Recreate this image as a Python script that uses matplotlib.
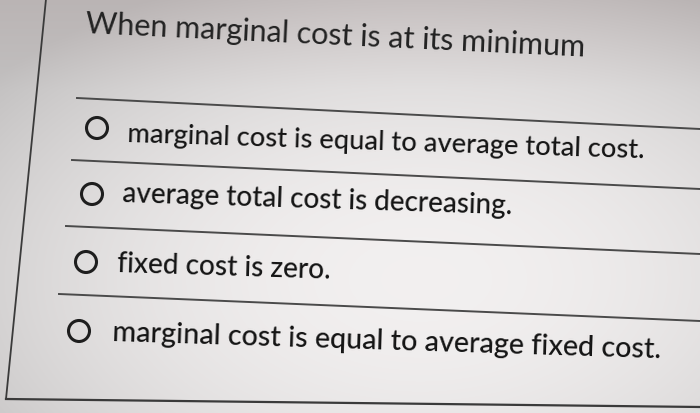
import matplotlib.pyplot as plt
import numpy as np

question = "When marginal cost is at its minimum"
options = [
    "marginal cost is equal to average total cost.",
    "average total cost is decreasing.",
    "fixed cost is zero.",
    "marginal cost is equal to average fixed cost.",
]

W, H = 700, 414
fig = plt.figure(figsize=(7, 4.14), dpi=100)
ax = fig.add_axes([0, 0, 1, 1])
ax.set_xlim(0, W)
ax.set_ylim(H, 0)
ax.axis('off')

# photo-ish background: brighter in the middle, greyer towards the edges
yy, xx = np.mgrid[0:H, 0:W]
d = np.sqrt(((xx - 420) / 560.0) ** 2 + ((yy - 280) / 330.0) ** 2)
shade = np.clip(0.95 - 0.20 * d ** 2, 0.76, 0.95)
top = np.clip(yy / 90.0, 0, 1)
r = shade * (0.96 + 0.04 * top)
g = shade * (0.93 + 0.06 * top)
b = shade * (0.93 + 0.06 * top)
ax.imshow(np.dstack([r, g, b]), extent=(0, W, H, 0), aspect='auto', zorder=0)

# frame edges
ax.plot([46, 6], [0, 400], color='#3a3a3a', lw=1.3)
ax.plot([6, 700], [400, 408], color='#3a3a3a', lw=1.6)

# separator lines (left x, left y, right y)
seps = [(77, 99, 130), (72, 161, 190), (66, 227, 255), (59, 295, 322)]
for x0, y0, y1 in seps:
    ax.plot([x0, 700], [y0, y1], color='#4a4a4a', lw=1.4)

ax.text(85, 33, question, fontsize=22, family='Lato', color='#222222',
        rotation=-2.7, rotation_mode='anchor', va='baseline', ha='left')

# circle x, circle y, text x, baseline y, font size
rows = [(97, 129, 127, 142, 19.6), (92, 195, 122, 202, 20.1),
        (86, 263, 117, 272, 20.2), (79, 332, 112, 341, 20.7)]
for (cx, cy, tx, ty, fs), label in zip(rows, options):
    ax.add_patch(plt.Circle((cx, cy), 10.5, fill=False, ec='#1e1e1e', lw=2.2))
    ax.text(tx, ty, label, fontsize=fs, family='Lato', weight='medium', color='#141414',
            rotation=-1.8, rotation_mode='anchor', va='baseline', ha='left')

fig.savefig('out.png', dpi=100)
